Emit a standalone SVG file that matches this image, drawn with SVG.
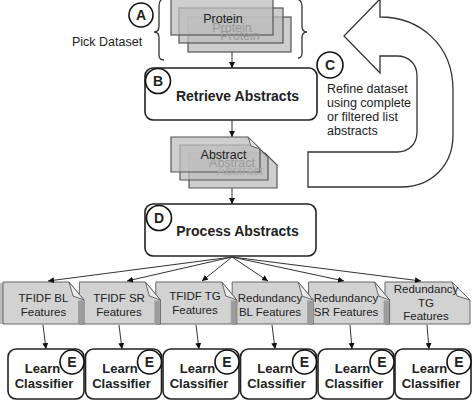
<svg xmlns="http://www.w3.org/2000/svg" width="474" height="400" viewBox="0 0 474 400">
<style>
text{font-family:"Liberation Sans",Arial,sans-serif;fill:#222}
.lbl{font-size:12.5px}
.big{font-size:14px;font-weight:bold;text-anchor:middle}
.feat{font-size:11.5px;text-anchor:middle}
.lc{font-size:13px;font-weight:bold;text-anchor:middle}
.circ{fill:#fff;stroke:#111;stroke-width:1.6}
.ltr{font-size:14px;font-weight:bold;text-anchor:middle}
.box{fill:#fff;stroke:#222;stroke-width:1.6}
.stk{fill:#bdbdbd;fill-opacity:0.75;stroke:#555;stroke-width:1.2}
.fb{fill:#d2d2d2;stroke:#666;stroke-width:1}
.fold{fill:#ececec;stroke:#666;stroke-width:1}
.shd{fill:#9c9c9c}
.con{stroke:#333;stroke-width:1;fill:none;marker-end:url(#ah)}
.faded{fill:#999}
</style>
<defs>
<marker id="ah" markerWidth="6" markerHeight="6" refX="6" refY="3" orient="auto" markerUnits="userSpaceOnUse">
<path d="M0,0 L6,3 L0,6 z" fill="#111"/>
</marker>
</defs>
<rect width="474" height="400" fill="#fff"/>

<g id="nodeA">
<rect class="stk" x="188" y="17" width="103" height="35"/>
<rect class="stk" x="179" y="8" width="104" height="35"/>
<rect class="stk" x="171" y="-2" width="102" height="37"/>
<text class="lbl faded" x="240" y="40" text-anchor="middle">Protein</text>
<text class="lbl faded" x="232" y="32" text-anchor="middle">Protein</text>
<text class="lbl" x="223" y="23" text-anchor="middle">Protein</text>
<path d="M163,-1 Q159,0 159,6 L159,26 Q159,32 154,32 Q159,32 159,38 L159,55 Q159,60 164,60" fill="none" stroke="#333" stroke-width="1.3"/>
<path d="M297,-1 Q302,0 302,6 L302,26 Q302,32 307,32 Q302,32 302,38 L302,53 Q302,58 298,58" fill="none" stroke="#333" stroke-width="1.3"/>
<circle class="circ" cx="141" cy="15" r="12"/>
<text class="ltr" x="141" y="20">A</text>
<text class="lbl" x="72" y="46">Pick Dataset</text>
</g>

<g id="nodeB">
<rect class="box" x="145" y="68" width="172" height="52" rx="8"/>
<circle class="circ" cx="158" cy="81" r="12.5"/>
<text class="ltr" x="158" y="86">B</text>
<text class="big" x="237.5" y="101">Retrieve Abstracts</text>
</g>

<g id="nodeAbstract">
<polygon class="stk" points="189,153 265,153 277,165 277,188 189,188"/>
<polygon class="stk" points="180,145 256,145 268,157 268,180 180,180"/>
<polygon class="stk" points="171,137 248,137 260,149 260,172 171,172"/>
<polygon class="fold" points="248,137 251,146 260,149" fill-opacity="0.8"/>
<text class="lbl" x="240" y="175" text-anchor="middle" fill="#aaa" style="fill:#aaa">Abstract</text>
<text class="lbl faded" x="232" y="167" text-anchor="middle">Abstract</text>
<text class="lbl" x="223.5" y="159" text-anchor="middle">Abstract</text>
</g>

<g id="nodeC">
<path d="M380,17 C420,17 453,45 453,90 L453,135 C453,165 432,187 401,187 L308,187 L308,152 L397,152 C409,152 417,144 417,132 L417,76 C417,64 409,56 397,56 L380,56 L380,73 L344,36 L380,-1 Z" fill="#fff" stroke="#333" stroke-width="1.3"/>
<circle class="circ" cx="330" cy="65" r="13"/>
<text class="ltr" x="330" y="70">C</text>
<text class="lbl" x="327" y="93">Refine dataset</text>
<text class="lbl" x="327" y="107">using complete</text>
<text class="lbl" x="327" y="121">or filtered list</text>
<text class="lbl" x="327" y="135">abstracts</text>
</g>

<g id="nodeD">
<rect class="box" x="145" y="204" width="171" height="52" rx="8"/>
<circle class="circ" cx="159" cy="218" r="12.5"/>
<text class="ltr" x="159" y="223">D</text>
<text class="big" x="237.5" y="236">Process Abstracts</text>
</g>

<g id="feat6">
<polygon class="fb" points="385,282 452,282 470,300 470,324 385,324"/>
<polygon class="fold" points="452,282 457,296 470,300"/>
<text class="feat" x="426" y="293">Redundancy</text>
<text class="feat" x="426" y="307">TG</text>
<text class="feat" x="426" y="320">Features</text>
</g>
<g id="feat5">
<polygon class="fb" points="308.6,282 374.6,282 389.6,300 389.6,324 308.6,324"/>
<polygon class="fold" points="374.6,282 378.6,296 389.6,300"/>
<rect class="shd" x="383.6" y="300.5" width="5.5" height="23"/>
<text class="feat" x="346" y="302">Redundancy</text>
<text class="feat" x="346" y="316">SR Features</text>
</g>
<g id="feat4">
<polygon class="fb" points="232.2,282 298.2,282 313.2,300 313.2,324 232.2,324"/>
<polygon class="fold" points="298.2,282 302.2,296 313.2,300"/>
<rect class="shd" x="307.2" y="300.5" width="5.5" height="23"/>
<text class="feat" x="270" y="302">Redundancy</text>
<text class="feat" x="270" y="316">BL Features</text>
</g>
<g id="feat3">
<polygon class="fb" points="155.8,282 221.8,282 236.8,300 236.8,324 155.8,324"/>
<polygon class="fold" points="221.8,282 225.8,296 236.8,300"/>
<rect class="shd" x="230.8" y="300.5" width="5.5" height="23"/>
<text class="feat" x="195" y="300">TFIDF TG</text>
<text class="feat" x="195" y="314">Features</text>
</g>
<g id="feat2">
<polygon class="fb" points="79.4,282 145.4,282 160.4,300 160.4,324 79.4,324"/>
<polygon class="fold" points="145.4,282 149.4,296 160.4,300"/>
<rect class="shd" x="154.4" y="300.5" width="5.5" height="23"/>
<text class="feat" x="119" y="302">TFIDF SR</text>
<text class="feat" x="119" y="316">Features</text>
</g>
<g id="feat1">
<rect x="0" y="283" width="3" height="41" fill="#bbb"/>
<polygon class="fb" points="3,282 69,282 84,300 84,324 3,324"/>
<polygon class="fold" points="69,282 73,296 84,300"/>
<rect class="shd" x="78" y="300.5" width="5.5" height="23"/>
<text class="feat" x="43.5" y="302">TFIDF BL</text>
<text class="feat" x="43.5" y="316">Features</text>
</g>

<g id="learn1">
<rect class="box" x="8" y="349" width="76" height="50" rx="8"/>
<circle class="circ" cx="72" cy="362" r="12"/>
<text class="ltr" x="72" y="367">E</text>
<text class="lc" x="42.5" y="373">Learn</text>
<text class="lc" x="44" y="388">Classifier</text>
</g>
<g id="learn2">
<rect class="box" x="85.5" y="349" width="76" height="50" rx="8"/>
<circle class="circ" cx="149.5" cy="362" r="12"/>
<text class="ltr" x="149.5" y="367">E</text>
<text class="lc" x="120" y="373">Learn</text>
<text class="lc" x="121.5" y="388">Classifier</text>
</g>
<g id="learn3">
<rect class="box" x="163" y="349" width="76" height="50" rx="8"/>
<circle class="circ" cx="227" cy="362" r="12"/>
<text class="ltr" x="227" y="367">E</text>
<text class="lc" x="197.5" y="373">Learn</text>
<text class="lc" x="199" y="388">Classifier</text>
</g>
<g id="learn4">
<rect class="box" x="240.5" y="349" width="76" height="50" rx="8"/>
<circle class="circ" cx="304.5" cy="362" r="12"/>
<text class="ltr" x="304.5" y="367">E</text>
<text class="lc" x="275" y="373">Learn</text>
<text class="lc" x="276.5" y="388">Classifier</text>
</g>
<g id="learn5">
<rect class="box" x="318" y="349" width="76" height="50" rx="8"/>
<circle class="circ" cx="382" cy="362" r="12"/>
<text class="ltr" x="382" y="367">E</text>
<text class="lc" x="352.5" y="373">Learn</text>
<text class="lc" x="354" y="388">Classifier</text>
</g>
<g id="learn6">
<rect class="box" x="395" y="349" width="76" height="50" rx="8"/>
<circle class="circ" cx="459" cy="362" r="12"/>
<text class="ltr" x="459" y="367">E</text>
<text class="lc" x="429.5" y="373">Learn</text>
<text class="lc" x="431" y="388">Classifier</text>
</g>

<g id="connectors">
<line class="con" x1="232" y1="52" x2="232" y2="68"/>
<line class="con" x1="232" y1="120" x2="232" y2="137"/>
<line class="con" x1="232" y1="188" x2="232" y2="204"/>
<line class="con" x1="232" y1="257" x2="48" y2="281"/>
<line class="con" x1="232" y1="257" x2="127" y2="281"/>
<line class="con" x1="232" y1="257" x2="202" y2="281"/>
<line class="con" x1="232" y1="257" x2="268" y2="281"/>
<line class="con" x1="232" y1="257" x2="344" y2="281"/>
<line class="con" x1="232" y1="257" x2="421" y2="281"/>
<line class="con" x1="43" y1="325" x2="46" y2="349"/>
<line class="con" x1="119" y1="325" x2="122" y2="349"/>
<line class="con" x1="196" y1="325" x2="199" y2="349"/>
<line class="con" x1="272" y1="325" x2="275" y2="349"/>
<line class="con" x1="350" y1="325" x2="352" y2="349"/>
<line class="con" x1="427" y1="325" x2="429" y2="349"/>
</g>
</svg>
